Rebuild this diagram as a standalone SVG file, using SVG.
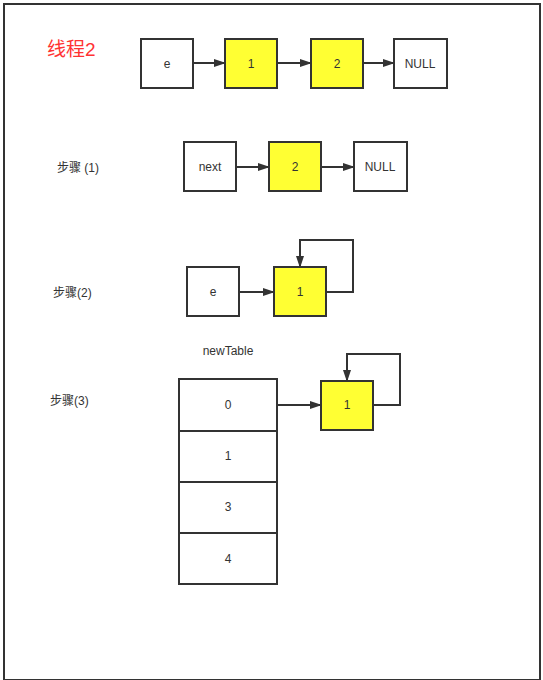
<svg xmlns="http://www.w3.org/2000/svg" width="543" height="680" viewBox="0 0 543 680">
<style>
.box{fill:#fff;stroke:#333;stroke-width:2}
.y{fill:#ffff33}
.t{font-family:"Liberation Sans","Noto Sans CJK SC",sans-serif;font-size:12px;fill:#333;text-anchor:middle;dominant-baseline:central}
.l{font-family:"Liberation Sans","Noto Sans CJK SC",sans-serif;font-size:12px;fill:#333}
.c{fill:none;stroke:#333;stroke-width:2;marker-end:url(#ah)}
</style>
<defs>
<marker id="ah" markerWidth="12" markerHeight="10" refX="11" refY="5" orient="auto" markerUnits="userSpaceOnUse">
<path d="M0,1 L12,5 L0,9 Z" fill="#333"/>
</marker>
</defs>
<rect x="0" y="0" width="543" height="680" fill="#fff"/>
<rect x="4" y="4" width="536" height="676" fill="#fff" stroke="#333" stroke-width="2"/>
<text x="47" y="56" font-family="Liberation Sans,Noto Sans CJK SC,sans-serif" font-size="19" fill="#ff3333">线程2</text>
<text class="l" x="57" y="172">步骤 (1)</text>
<text class="l" x="53" y="297">步骤(2)</text>
<text class="l" x="50" y="405">步骤(3)</text>
<text class="t" x="228" y="351">newTable</text>
<g id="r1-e"><rect class="box" x="141" y="39" width="52" height="49"/><text class="t" x="167" y="64">e</text></g>
<g id="r1-1"><rect class="box y" x="225" y="39" width="52" height="49"/><text class="t" x="251" y="64">1</text></g>
<g id="r1-2"><rect class="box y" x="311" y="39" width="52" height="49"/><text class="t" x="337" y="64">2</text></g>
<g id="r1-null"><rect class="box" x="394" y="39" width="53" height="49"/><text class="t" x="420" y="64">NULL</text></g>
<g id="r2-next"><rect class="box" x="184" y="142" width="52" height="49"/><text class="t" x="210" y="167">next</text></g>
<g id="r2-2"><rect class="box y" x="269" y="142" width="52" height="49"/><text class="t" x="295" y="167">2</text></g>
<g id="r2-null"><rect class="box" x="354" y="142" width="53" height="49"/><text class="t" x="380" y="167">NULL</text></g>
<g id="r3-e"><rect class="box" x="187" y="267" width="52" height="49"/><text class="t" x="213" y="292">e</text></g>
<g id="r3-1"><rect class="box y" x="274" y="267" width="52" height="49"/><text class="t" x="300" y="292">1</text></g>
<g id="tbl0"><rect class="box" x="179" y="379" width="98" height="52"/><text class="t" x="228" y="405">0</text></g>
<g id="tbl1"><rect class="box" x="179" y="431" width="98" height="51"/><text class="t" x="228" y="456">1</text></g>
<g id="tbl3"><rect class="box" x="179" y="482" width="98" height="51"/><text class="t" x="228" y="507">3</text></g>
<g id="tbl4"><rect class="box" x="179" y="533" width="98" height="51"/><text class="t" x="228" y="559">4</text></g>
<g id="r4-1"><rect class="box y" x="321" y="381" width="52" height="49"/><text class="t" x="347" y="405">1</text></g>
<g id="connectors">
<path class="c" d="M193,63 L225,63"/>
<path class="c" d="M277,63 L311,63"/>
<path class="c" d="M363,63 L394,63"/>
<path class="c" d="M236,167 L269,167"/>
<path class="c" d="M321,167 L354,167"/>
<path class="c" d="M239,292 L274,292"/>
<path class="c" d="M326,292 L353,292 L353,240 L300,240 L300,267"/>
<path class="c" d="M277,405 L321,405"/>
<path class="c" d="M373,405 L400,405 L400,354 L347,354 L347,381"/>
</g>
</svg>
